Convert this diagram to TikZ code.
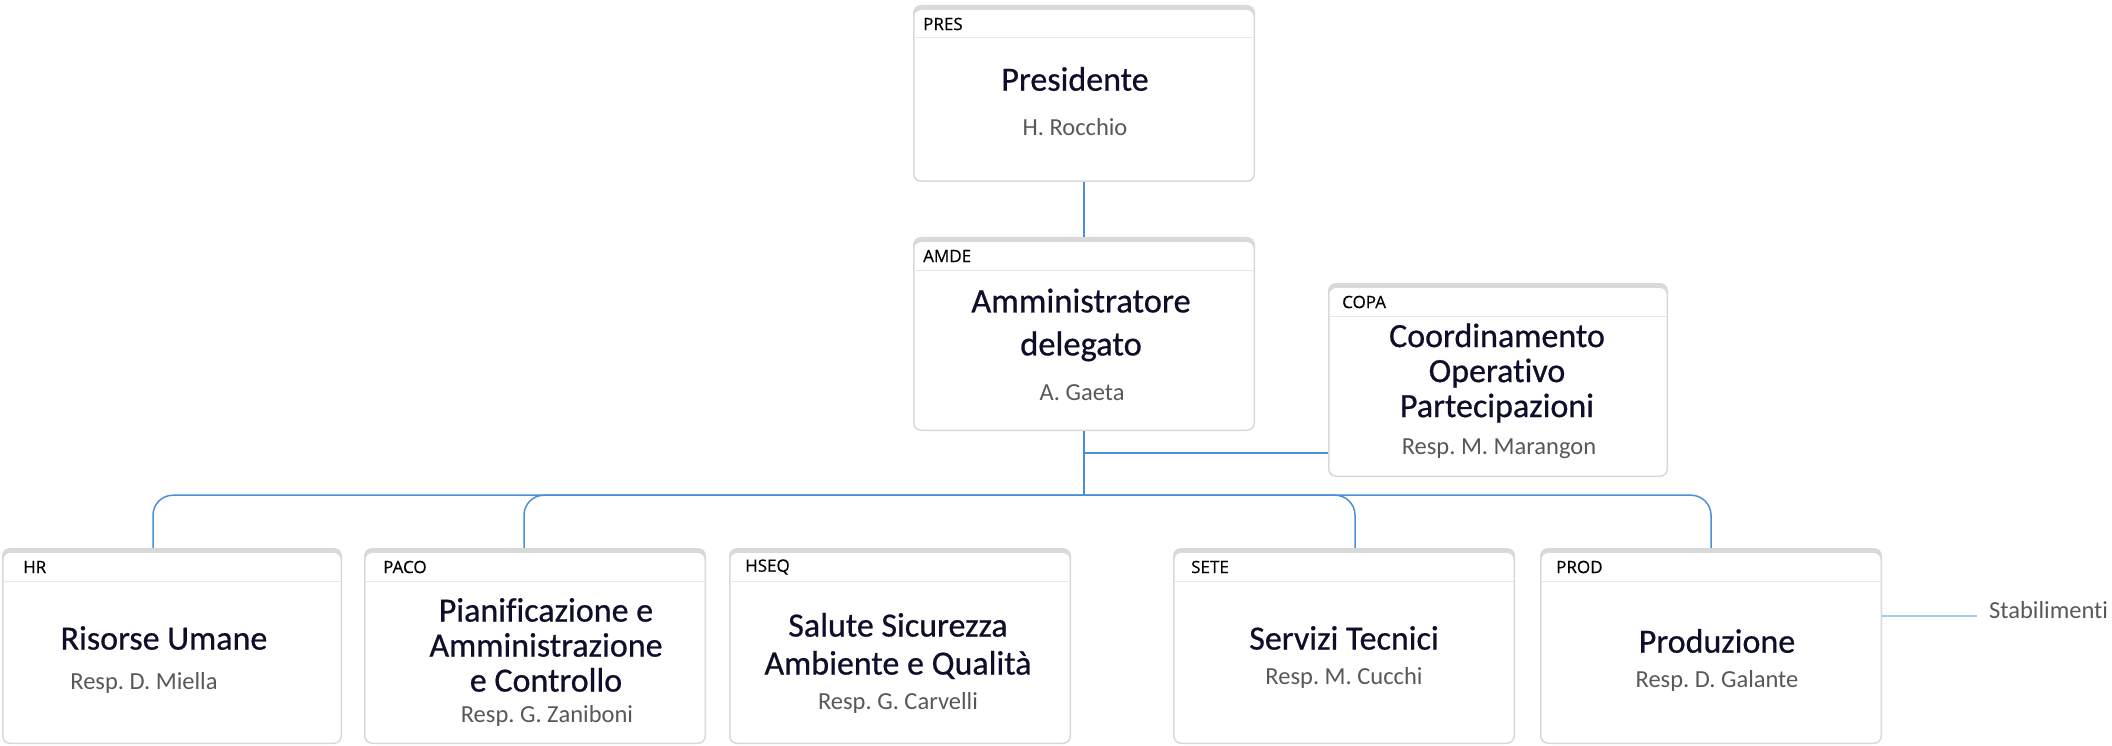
\documentclass[tikz,border=0pt]{standalone}
\usepackage{fontspec}
\setmainfont{Carlito}[Ligatures={NoCommon}]
\newfontfamily\ttlfont{Carlito}[Ligatures={NoCommon}, FakeBold=0.6]
\newfontfamily\lblfont{Open Sans}[FakeBold=0.4]
\usetikzlibrary{calc}
\definecolor{conncol}{HTML}{4A90D9}
\definecolor{conncol2}{HTML}{A9CCEB}
\definecolor{boxgray}{HTML}{D9D9D9}
\definecolor{sepgray}{HTML}{E6E6E6}
\definecolor{titlecol}{HTML}{0E0E2A}
\definecolor{namecol}{HTML}{585858}
\frenchspacing
\tikzset{
 conn/.style={draw=conncol, line width=1.5pt},
 conn2/.style={draw=conncol2, line width=1.5pt},
 boxnode/.style={inner sep=0pt, draw=none},
 lbl/.style={anchor=west, inner sep=0pt, font={\lblfont\fontsize{17}{20}\selectfont}, text=black},
 ttl/.style={inner sep=0pt, align=center, font={\ttlfont\fontsize{34}{35}\selectfont}, text=titlecol},
 nm/.style={inner sep=0pt, font={\fontsize{24.5}{28}\selectfont}, text=namecol},
}
% #1 name, #2 x1, #3 y1, #4 x2, #5 y2, #6 label, #7 label x offset
\newcommand\orgbox[7]{%
  \fill[boxgray, rounded corners=8pt] (#2,#3) rectangle (#4,#5);
  \fill[white, rounded corners=7pt] ({#2+1.5},{#3+5}) rectangle ({#4-1.5},{#5-1.5});
  \draw[sepgray, line width=1pt] ({#2+1.5},{#3+33}) -- ({#4-1.5},{#3+33});
  \node[boxnode, minimum width={(#4-#2)*1pt}, minimum height={(#5-#3)*1pt}] (#1) at ({(#2+#4)/2},{(#3+#5)/2}) {};
  \node[lbl] (#1-l) at ({#2+#7},{#3+19}) {#6};
}
\begin{document}
\begin{tikzpicture}[x=1pt,y=-1pt]
\useasboundingbox (0,0) rectangle (2112,746);
\fill[white] (0,0) rectangle (2112,746);

\orgbox{pres}{913}{5}{1255}{182}{PRES}{10}
\orgbox{amde}{913}{237}{1255}{431}{AMDE}{10}
\orgbox{copa}{1328}{283}{1668}{477}{COPA}{14}
\orgbox{hr}{2}{548}{342}{744}{HR}{21}
\orgbox{paco}{364}{548}{706}{744}{PACO}{19}
\orgbox{hseq}{729}{548}{1071}{744}{HSEQ}{16}
\orgbox{sete}{1173}{548}{1515}{744}{SETE}{18}
\orgbox{prod}{1540}{548}{1882}{744}{PROD}{16}

\node[ttl] (pres-t) at (1075,79) {Presidente};
\node[nm] (pres-n) at (1075,127) {H. Rocchio};
\node[ttl, font={\ttlfont\fontsize{34.5}{43}\selectfont}] (amde-t) at (1081,325) {Amministratore\\delegato};
\node[nm] (amde-n) at (1082,393) {A. Gaeta};
\node[ttl] (copa-t) at (1497,373) {Coordinamento\\Operativo\\Partecipazioni};
\node[nm] (copa-n) at (1499,449) {Resp. M. Marangon};
\node[ttl] (hr-t) at (164,638) {Risorse Umane};
\node[nm] (hr-n) at (144,683) {Resp. D. Miella};
\node[ttl] (paco-t) at (546,645) {Pianificazione e\\Amministrazione\\e Controllo};
\node[nm] (paco-n) at (547,716) {Resp. G. Zaniboni};
\node[ttl, font={\ttlfont\fontsize{34}{38}\selectfont}] (hseq-t) at (898,646) {Salute Sicurezza\\Ambiente e Qualità};
\node[nm] (hseq-n) at (898,703) {Resp. G. Carvelli};
\node[ttl] (sete-t) at (1344,638) {Servizi Tecnici};
\node[nm] (sete-n) at (1344,678) {Resp. M. Cucchi};
\node[ttl] (prod-t) at (1717,641) {Produzione};
\node[nm] (prod-n) at (1717,681) {Resp. D. Galante};
\node[nm, anchor=west, inner xsep=12pt] (stab) at (1977,610) {Stabilimenti};

% connectors
\draw[conn] (pres.south) -- (amde.north);
\coordinate (bus) at ($(amde.south)+(0,64)$);
\coordinate (copaj) at ($(amde.south)+(0,22)$);
\draw[conn] (amde.south) -- (bus);
\draw[conn] (copaj) -- (copaj -| copa.west);
\draw[conn, rounded corners=20pt] (bus) -| ($(hr.north)+(-19,0)$);
\draw[conn, rounded corners=20pt] (bus) -| ($(paco.north)+(-11,0)$);
\draw[conn, rounded corners=20pt] (bus) -| ($(sete.north)+(11,0)$);
\draw[conn, rounded corners=20pt] (bus) -| (prod.north);
\coordinate (sl) at ($(prod.east)+(0,-30)$);
\draw[conn2] (sl) -- (sl -| stab.west);
\end{tikzpicture}
\end{document}
